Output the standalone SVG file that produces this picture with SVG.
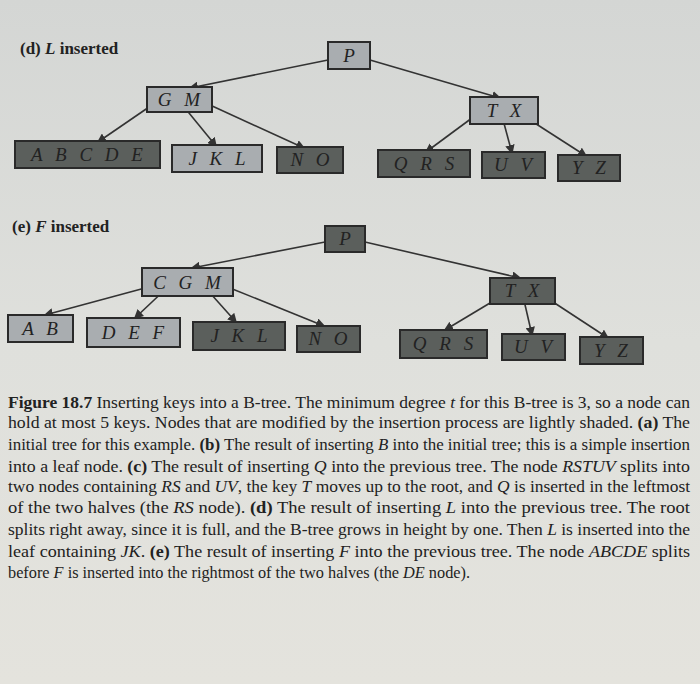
<svg xmlns="http://www.w3.org/2000/svg" width="700" height="684" viewBox="0 0 700 684">
<defs>
<linearGradient id="bg" x1="0" y1="0" x2="0" y2="1"><stop offset="0" stop-color="#d4d6d4"/><stop offset="0.5" stop-color="#dfe0dc"/><stop offset="1" stop-color="#e4e3dd"/></linearGradient>
<marker id="ah" markerWidth="6" markerHeight="6" refX="5" refY="3" orient="auto"><path d="M0,0 L6,3 L0,6 z" fill="#333"/></marker>
<style>
.d{fill:#5b5f5c;stroke:#2a2a2a;stroke-width:2}
.l{fill:#a9adb0;stroke:#2a2a2a;stroke-width:2}
.k{font-family:"Liberation Serif",serif;font-style:italic;font-size:19px;fill:#222;text-anchor:middle;letter-spacing:4px}
.c{font-family:"Liberation Serif",serif;font-size:16px;fill:#222}
.t{font-family:"Liberation Serif",serif;font-size:17px;fill:#222;font-weight:bold}
.e line{stroke:#333;stroke-width:1.6;marker-end:url(#ah)}
</style>
</defs>
<rect width="700" height="684" fill="url(#bg)"/>
<text x="20" y="54" class="t">(d) <tspan font-style="italic">L</tspan> inserted</text>
<g class="e">
<line x1="328" y1="60" x2="190" y2="88"/>
<line x1="370" y1="60" x2="500" y2="98"/>
<line x1="152" y1="105" x2="98" y2="142"/>
<line x1="180" y1="102" x2="216" y2="146"/>
<line x1="210" y1="105" x2="304" y2="148"/>
<line x1="472" y1="118" x2="426" y2="152"/>
<line x1="502" y1="116" x2="512" y2="153"/>
<line x1="530" y1="120" x2="586" y2="156"/>
<line x1="325" y1="242" x2="192" y2="268"/>
<line x1="365" y1="242" x2="520" y2="278"/>
<line x1="145" y1="288" x2="45" y2="315"/>
<line x1="170" y1="285" x2="135" y2="318"/>
<line x1="202" y1="284" x2="236" y2="322"/>
<line x1="230" y1="288" x2="324" y2="326"/>
<line x1="495" y1="300" x2="445" y2="330"/>
<line x1="523" y1="296" x2="532" y2="335"/>
<line x1="550" y1="300" x2="608" y2="338"/>
</g>
<g id="d-P"><rect class="l" x="328" y="42" width="42" height="27"/><text class="k" x="351" y="62">P</text></g>
<g id="d-GM"><rect class="l" x="147" y="87" width="65" height="25"/><text class="k" x="181" y="106">G M</text></g>
<g id="d-TX"><rect class="l" x="470" y="97" width="68" height="27"/><text class="k" x="506" y="117">T X</text></g>
<g id="d-ABCDE"><rect class="d" x="15" y="141" width="145" height="27"/><text class="k" x="89" y="161">A B C D E</text></g>
<g id="d-JKL"><rect class="l" x="172" y="145" width="90" height="27"/><text class="k" x="219" y="165">J K L</text></g>
<g id="d-NO"><rect class="d" x="277" y="147" width="66" height="26"/><text class="k" x="312" y="166">N O</text></g>
<g id="d-QRS"><rect class="d" x="378" y="150" width="92" height="27"/><text class="k" x="426" y="170">Q R S</text></g>
<g id="d-UV"><rect class="d" x="482" y="152" width="63" height="26"/><text class="k" x="515" y="171">U V</text></g>
<g id="d-YZ"><rect class="d" x="558" y="155" width="62" height="26"/><text class="k" x="591" y="174">Y Z</text></g>

<text x="12" y="232" class="t">(e) <tspan font-style="italic">F</tspan> inserted</text>
<g id="e-P"><rect class="d" x="325" y="226" width="40" height="26"/><text class="k" x="347" y="245">P</text></g>
<g id="e-CGM"><rect class="l" x="142" y="268" width="91" height="28"/><text class="k" x="189" y="289">C G M</text></g>
<g id="e-TX"><rect class="d" x="490" y="278" width="65" height="26"/><text class="k" x="524" y="297">T X</text></g>
<g id="e-AB"><rect class="l" x="8" y="315" width="65" height="27"/><text class="k" x="42" y="335">A B</text></g>
<g id="e-DEF"><rect class="l" x="87" y="318" width="93" height="29"/><text class="k" x="135" y="339">D E F</text></g>
<g id="e-JKL"><rect class="d" x="193" y="322" width="92" height="28"/><text class="k" x="241" y="342">J K L</text></g>
<g id="e-NO"><rect class="d" x="297" y="326" width="63" height="26"/><text class="k" x="330" y="345">N O</text></g>
<g id="e-QRS"><rect class="d" x="400" y="330" width="87" height="28"/><text class="k" x="445" y="350">Q R S</text></g>
<g id="e-UV"><rect class="d" x="502" y="334" width="63" height="26"/><text class="k" x="535" y="353">U V</text></g>
<g id="e-YZ"><rect class="d" x="580" y="337" width="63" height="27"/><text class="k" x="613" y="357">Y Z</text></g>

<g class="c">
<text x="8" y="408" textLength="682" lengthAdjust="spacingAndGlyphs"><tspan font-weight="bold">Figure 18.7</tspan>  Inserting keys into a B-tree. The minimum degree <tspan font-style="italic">t</tspan> for this B-tree is 3, so a node can</text>
<text x="8" y="428" textLength="682" lengthAdjust="spacingAndGlyphs">hold at most 5 keys. Nodes that are modified by the insertion process are lightly shaded. <tspan font-weight="bold">(a)</tspan> The</text>
<text x="8" y="450" textLength="682" lengthAdjust="spacingAndGlyphs">initial tree for this example. <tspan font-weight="bold">(b)</tspan> The result of inserting <tspan font-style="italic">B</tspan> into the initial tree; this is a simple insertion</text>
<text x="8" y="472" textLength="682" lengthAdjust="spacingAndGlyphs">into a leaf node. <tspan font-weight="bold">(c)</tspan> The result of inserting <tspan font-style="italic">Q</tspan> into the previous tree. The node <tspan font-style="italic">RSTUV</tspan> splits into</text>
<text x="8" y="492" textLength="682" lengthAdjust="spacingAndGlyphs">two nodes containing <tspan font-style="italic">RS</tspan> and <tspan font-style="italic">UV</tspan>, the key <tspan font-style="italic">T</tspan> moves up to the root, and <tspan font-style="italic">Q</tspan> is inserted in the leftmost</text>
<text x="8" y="513" textLength="682" lengthAdjust="spacingAndGlyphs">of the two halves (the <tspan font-style="italic">RS</tspan> node). <tspan font-weight="bold">(d)</tspan> The result of inserting <tspan font-style="italic">L</tspan> into the previous tree. The root</text>
<text x="8" y="535" textLength="682" lengthAdjust="spacingAndGlyphs">splits right away, since it is full, and the B-tree grows in height by one. Then <tspan font-style="italic">L</tspan> is inserted into the</text>
<text x="8" y="557" textLength="682" lengthAdjust="spacingAndGlyphs">leaf containing <tspan font-style="italic">JK</tspan>. <tspan font-weight="bold">(e)</tspan> The result of inserting <tspan font-style="italic">F</tspan> into the previous tree. The node <tspan font-style="italic">ABCDE</tspan> splits</text>
<text x="8" y="578" textLength="462" lengthAdjust="spacingAndGlyphs">before <tspan font-style="italic">F</tspan> is inserted into the rightmost of the two halves (the <tspan font-style="italic">DE</tspan> node).</text>
</g>
</svg>
